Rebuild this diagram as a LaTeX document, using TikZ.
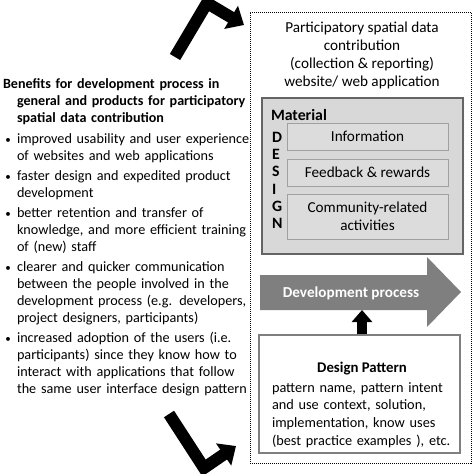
\documentclass[tikz,border=0pt]{standalone}
\usepackage{fontspec}
\setmainfont{Carlito}
\usetikzlibrary{arrows.meta}
\definecolor{boxgray}{RGB}{216,216,216}
\definecolor{innergray}{RGB}{220,220,220}
\definecolor{darkborder}{RGB}{100,100,100}
\definecolor{lightborder}{RGB}{160,160,160}
\definecolor{arrowgray}{RGB}{127,127,127}
\begin{document}
\begin{tikzpicture}[x=1pt,y=-1pt,
  txt/.style={font=\fontsize{14.2}{17}\selectfont, inner sep=0pt, outer sep=0pt},
  rtxt/.style={font=\fontsize{15.2}{18}\selectfont, inner sep=0pt, outer sep=0pt},
  lefttxt/.style={txt, anchor=base west, text width=250pt, align=left},
  bul/.style={inner sep=0pt, outer sep=0pt, font=\fontsize{11}{17}\selectfont, anchor=base},
  ctr/.style={rtxt, anchor=base},
  bigbold/.style={inner sep=0pt, outer sep=0pt, font=\fontsize{15.8}{18}\selectfont\bfseries},
  innerbox/.style={draw=lightborder, fill=innergray, line width=0.8pt, minimum width=161pt, inner sep=0pt},
  bigarrow/.style={line width=12pt, line join=miter, -{Triangle[length=15pt,width=26pt]}},
  uparrow/.style={line width=10pt, -{Triangle[length=12pt,width=20pt]}}
]
\useasboundingbox (0,0) rectangle (474,474);
\clip (0,0) rectangle (474,474);
\fill[white] (0,0) rectangle (474,474);

% outer dotted frame
\node[name=outer, draw, line width=1pt, dash pattern=on 1pt off 1pt, minimum width=221pt, minimum height=451pt, inner sep=0pt] at (360.5,237.5) {};

% title
\node[ctr, name=t1] at (362,32) {Participatory spatial data};
\node[ctr, name=t2] at (362,50) {contribution};
\node[ctr, name=t3] at (362,68) {(collection \& reporting)};
\node[ctr, name=t4] at (362,86) {website/ web application};

% material box
\node[name=mat, draw=darkborder, fill=boxgray, line width=1.2pt, minimum width=201pt, minimum height=156pt, inner sep=0pt] at (362.5,176) {};
\node[bigbold, anchor=base west, name=matlabel] at (271,120) {Material};
\foreach \l [count=\i from 0] in {D,E,S,I,G,N}{
  \node[bigbold, anchor=base west, name=ds\i] at (272,142.5+17.2*\i) {\l};
}
\node[innerbox, name=info, minimum height=27pt] at (367.5,136.5) {};
\node[ctr, name=infot] at (367.5,141.5) {Information};
\node[innerbox, name=feed, minimum height=27pt] at (367.5,172.5) {};
\node[ctr, name=feedt] at (367.5,177.5) {Feedback \& rewards};
\node[innerbox, name=comm, minimum height=45pt] at (367.5,216.5) {};
\node[ctr, name=commt1] at (367.5,212) {Community-related};
\node[ctr, name=commt2] at (367.5,230) {activities};

% development arrow
\fill[arrowgray] (260,275) -- (427,275) -- (427,257) -- (461,292) -- (427,327) -- (427,310) -- (260,310) -- cycle;
\node[ctr, name=dev, text=white, font=\fontsize{15.2}{18}\selectfont\bfseries] at (351,297) {Development process};
\coordinate (devbot) at (362,310);

% design pattern box
\node[name=dp, draw=arrowgray, fill=white, line width=1.2pt, minimum width=201pt, minimum height=118pt, inner sep=0pt] at (359.5,394) {};
\node[ctr, name=dpt, font=\fontsize{14.8}{18}\selectfont\bfseries] at (362,372) {Design Pattern};
\node[rtxt, anchor=base west, text width=195pt, align=left, name=dpb, font=\fontsize{14.3}{17.7}\selectfont] at (272,392) {pattern name, pattern intent\\and use context, solution,\\implementation, know uses\\(best practice examples ), etc.};
\draw[uparrow] (dp.north -| devbot) -- (devbot);

% left text
\node[lefttxt, name=head, font=\fontsize{14.1}{17}\selectfont\bfseries] at (3,88) {Benefits for development process in};
\node[lefttxt, name=head2, font=\fontsize{14.1}{17}\selectfont\bfseries] at (17,105) {general and products for participatory\\spatial data contribution};
\node[bul, name=b1] at (8,143) {\textbullet};
\node[lefttxt, name=l1] at (17,143) {improved usability and user experience\\of websites and web applications};
\node[bul, name=b2] at (8,180) {\textbullet};
\node[lefttxt, name=l2] at (17,180) {faster design and expedited product\\development};
\node[bul, name=b3] at (8,217) {\textbullet};
\node[lefttxt, name=l3] at (17,217) {better retention and transfer of\\knowledge, and more efficient training\\of (new) staff};
\node[bul, name=b4] at (8,271) {\textbullet};
\node[lefttxt, name=l4] at (17,271) {clearer and quicker communication\\between the people involved in the\\development process (e.g. developers,\\project designers, participants)};
\node[bul, name=b5] at (8,342) {\textbullet};
\node[lefttxt, name=l5] at (17,342) {increased adoption of the users (i.e.\\participants) since they know how to\\interact with applications that follow\\the same user interface design pattern};

% bent arrows
\coordinate (a1s) at (175,57);
\coordinate (a1c) at (207,3);
\coordinate (a1e) at (244,25);
\draw[bigarrow] (a1s) -- (a1c) -- (a1e);
\coordinate (a2s) at (169,414);
\coordinate (a2c) at (204,468);
\coordinate (a2e) at (236,446);
\draw[bigarrow] (a2s) -- (a2c) -- (a2e);
\end{tikzpicture}
\end{document}
